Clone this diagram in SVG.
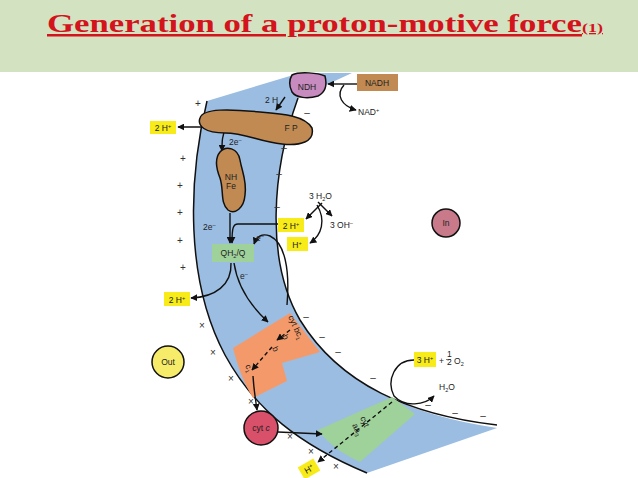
<svg xmlns="http://www.w3.org/2000/svg" width="638" height="478" viewBox="0 0 638 478">
<defs>
<marker id="ah" viewBox="0 0 10 10" refX="9" refY="5" markerWidth="5" markerHeight="5" orient="auto"><path d="M0,0L10,5L0,10z" fill="#111"/></marker>
<style>
.t{font-family:"Liberation Sans",Arial,sans-serif;font-size:8.5px;fill:#222}
.ln{fill:none;stroke:#111;stroke-width:1.5}
.ar{fill:none;stroke:#111;stroke-width:1.4;marker-end:url(#ah)}
.dash{fill:none;stroke:#111;stroke-width:1.4;stroke-dasharray:4 3;marker-end:url(#ah)}
.y{fill:#f7ec1a}
.br{fill:#c08a52;stroke:#111;stroke-width:1.5}
.sg{font-family:"Liberation Sans",Arial,sans-serif;font-size:10px;fill:#333;text-anchor:middle}
</style>
</defs>
<rect x="0" y="0" width="638" height="72" fill="#d3e3c1"/>
<text x="47" y="32" font-family="Liberation Serif,serif" font-weight="bold" font-size="25" fill="#d4141c" text-decoration="underline" textLength="556" lengthAdjust="spacingAndGlyphs">Generation of a proton-motive force<tspan font-size="13">(1)</tspan></text>
<g id="membrane">
<path d="M207,101 C188,180 185,280 225,355 C255,410 300,445 367,473 L497,428 C410,415 340,385 300,320 C265,260 272,170 298,98 L352,73 L300,73 Z" fill="#9bbde2"/>
<path d="M207,101 C188,180 185,280 225,355 C255,410 300,445 367,473" class="ln"/>
<path d="M298,98 C272,170 265,260 300,320 C340,385 410,415 497,425" class="ln"/>
<path d="M233,348 L290,313 L320,352 L282,363 L287,381 L253,398 C245,385 238,368 233,348Z" fill="#f49a6a"/>
<path d="M318,430 L392,397 L415,414 L360,462 C345,455 330,446 318,430Z" fill="#9fd19b"/>
</g>
<g id="signs">
<text class="sg" x="198" y="107">+</text><text class="sg" x="183" y="162">+</text><text class="sg" x="180" y="189">+</text><text class="sg" x="180" y="216">+</text><text class="sg" x="180" y="244">+</text><text class="sg" x="183" y="271">+</text>
<text class="sg" x="202" y="329">×</text><text class="sg" x="213" y="356">×</text><text class="sg" x="231" y="382">×</text><text class="sg" x="251" y="405">×</text><text class="sg" x="290" y="440">×</text><text class="sg" x="311" y="455">×</text><text class="sg" x="336" y="470">×</text>
<text class="sg" x="307" y="116">–</text><text class="sg" x="284" y="151">–</text><text class="sg" x="279" y="177">–</text><text class="sg" x="277" y="210">–</text><text class="sg" x="306" y="320">–</text><text class="sg" x="322" y="340">–</text><text class="sg" x="338" y="355">–</text><text class="sg" x="373" y="381">–</text><text class="sg" x="428" y="408">–</text><text class="sg" x="455" y="416">–</text><text class="sg" x="483" y="419">–</text>
</g>
<g id="connectors">
<line x1="357" y1="84" x2="328" y2="84" class="ar"/>
<path d="M344,85 C335,95 342,106 356,110" class="ar"/>
<line x1="285" y1="97" x2="276" y2="110" class="ar"/>
<line x1="245" y1="127" x2="178" y2="127" class="ar"/>
<path d="M226,128 C222,135 222,142 222,151" class="ar"/>
<line x1="230" y1="213" x2="230" y2="243" class="ar"/>
<path d="M278,224 L238,224 C233,224 232,228 232,243" class="ar"/>
<path d="M322,203 L306,219" class="ar"/>
<path d="M318,202 L332,216" class="ar"/>
<path d="M317,205 C326,220 322,235 310,243" class="ar"/>
<path d="M287,305 C290,270 285,243 270,236 C262,233 257,236 254,244" class="ar"/>
<path d="M231,263 C232,285 215,297 191,298" class="ar"/>
<path d="M234,263 C238,290 255,310 268,322" class="ar"/>
<line x1="290" y1="330" x2="277" y2="340" class="dash"/>
<line x1="272" y1="347" x2="252" y2="370" class="dash"/>
<path d="M253,376 C254,392 256,402 257,410" class="ar"/>
<line x1="278" y1="432" x2="322" y2="434" class="ar"/>
<line x1="392" y1="402" x2="318" y2="462" class="dash"/>
<path d="M414,360 C395,360 386,380 394,396 C405,408 425,405 434,396" class="ar"/>
</g>
<g id="NDH"><path d="M292,75 C300,71 318,73 325,76 C327,84 326,92 318,96 C308,99 296,98 292,92 C289,86 289,80 292,75Z" fill="#c78bc0" stroke="#111" stroke-width="1.5"/><text class="t" x="307" y="90" text-anchor="middle">NDH</text></g>
<g id="NADH"><rect x="357" y="74" width="41" height="17" fill="#c08a52"/><text class="t" x="377" y="86" text-anchor="middle">NADH</text></g>
<text class="t" x="358" y="115">NAD<tspan font-size="5.5" dy="-3">+</tspan></text>
<text class="t" x="265" y="103">2 H</text>
<g id="FP"><path d="M200,118 C203,108 230,109 260,112 C285,114 305,116 312,128 C315,142 300,146 282,144 C260,142 245,133 225,133 C205,133 197,126 200,118Z" class="br"/><text class="t" x="291" y="131" text-anchor="middle">F P</text></g>
<g id="h1"><rect x="150" y="121" width="26" height="13" class="y"/><text class="t" x="163" y="131" text-anchor="middle">2 H<tspan font-size="5.5" dy="-3">+</tspan></text></g>
<text class="t" x="229" y="145">2e<tspan font-size="5.5" dy="-3">–</tspan></text>
<g id="NHFe"><path d="M220,152 C226,145 238,148 240,160 C242,172 247,180 245,195 C244,208 235,215 228,210 C220,203 224,190 220,178 C216,168 215,158 220,152Z" class="br"/><text class="t" x="231" y="180" text-anchor="middle">NH</text><text class="t" x="231" y="189" text-anchor="middle">Fe</text></g>
<text class="t" x="203" y="230">2e<tspan font-size="5.5" dy="-3">–</tspan></text>
<text class="t" x="309" y="199">3 H<tspan font-size="5.5" dy="2">2</tspan><tspan dy="-2">O</tspan></text>
<text class="t" x="330" y="228">3 OH<tspan font-size="5.5" dy="-3">–</tspan></text>
<g id="h2"><rect x="278" y="218" width="26" height="14" class="y"/><text class="t" x="291" y="229" text-anchor="middle">2 H<tspan font-size="5.5" dy="-3">+</tspan></text></g>
<g id="h3"><rect x="287" y="237" width="21" height="14" class="y"/><text class="t" x="297" y="248" text-anchor="middle">H<tspan font-size="5.5" dy="-3">+</tspan></text></g>
<text class="t" x="256" y="241">e<tspan font-size="5.5" dy="-3">–</tspan></text>
<g id="QH2Q"><rect x="212" y="244" width="42" height="18" fill="#9fd19b"/><text class="t" x="233" y="256" text-anchor="middle">QH<tspan font-size="5.5" dy="2">2</tspan><tspan dy="-2">/Q</tspan></text></g>
<text class="t" x="240" y="279">e<tspan font-size="5.5" dy="-3">–</tspan></text>
<g id="h4"><rect x="164" y="292" width="26" height="14" class="y"/><text class="t" x="177" y="303" text-anchor="middle">2 H<tspan font-size="5.5" dy="-3">+</tspan></text></g>
<g id="In"><circle cx="446" cy="223" r="14" fill="#c87a8a" stroke="#111" stroke-width="1.5"/><text class="t" x="446" y="226" text-anchor="middle">In</text></g>
<g id="Out"><circle cx="168" cy="362" r="16" fill="#f7ec6a" stroke="#111" stroke-width="1.5"/><text class="t" x="168" y="365" text-anchor="middle">Out</text></g>
<g id="cytbc1">
<text class="t" transform="translate(288,317) rotate(65)">cyt bc<tspan font-size="5.5" dy="2">1</tspan></text>
<text class="t" transform="translate(282,336) rotate(65)">b</text>
<text class="t" transform="translate(272,348) rotate(65)">b</text>
<text class="t" transform="translate(245,366) rotate(65)">c<tspan font-size="5.5" dy="2">1</tspan></text>
</g>
<g id="cytc"><circle cx="261" cy="428" r="17" fill="#d9506a" stroke="#111" stroke-width="1.5"/><text class="t" x="261" y="431" text-anchor="middle">cyt <tspan font-style="italic">c</tspan></text></g>
<g id="cytaa3"><text class="t" transform="translate(360,418) rotate(65)">cyt</text><text class="t" transform="translate(352,425) rotate(65)">aa<tspan font-size="5.5" dy="2">3</tspan></text></g>
<g id="h5"><rect x="300" y="462" width="18" height="14" class="y" transform="rotate(-30 309 469)"/><text class="t" x="309" y="472" text-anchor="middle" transform="rotate(-30 309 469)">H<tspan font-size="5.5" dy="-3">+</tspan></text></g>
<g id="o2"><rect x="414" y="352" width="22" height="15" class="y"/><text class="t" x="425" y="363" text-anchor="middle">3 H<tspan font-size="5.5" dy="-3">+</tspan></text>
<text class="t" x="439" y="364">+</text><text class="t" x="447" y="357" font-size="5px">1</text><line x1="446" y1="359.5" x2="451" y2="359.5" stroke="#222" stroke-width="0.6"/><text class="t" x="447" y="365" font-size="5px">2</text><text class="t" x="454" y="364">O<tspan font-size="5.5" dy="2">2</tspan></text></g>
<text class="t" x="439" y="390">H<tspan font-size="5.5" dy="2">2</tspan><tspan dy="-2">O</tspan></text>
</svg>
